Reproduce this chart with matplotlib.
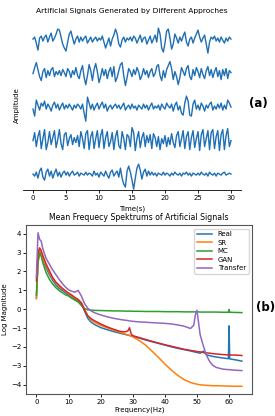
import numpy as np
import matplotlib.pyplot as plt

# ------------------------------------------------------------
# (a) signals, sampled every 0.25 s over 0..30 s (arbitrary units)
# ------------------------------------------------------------
t = np.arange(0, 30.001, 0.25)

sig_1 = [1, 3, -3, -10, 2, 4, -1, 3, 5, -2, 3, 7, -1, 2, 6, 11,
         10, 3, -4, -8, -11, -2, 6, 9, 2, -4, 1, 4, -2, 3, -1, 2,
         4, -3, 0, 3, -2, 1, 3, -1, 2, 0, 4, -2, -8, -3, 2, -6,
         1, 5, 11, 6, -4, -7, 0, 3, -2, 2, 0, 3, -1, 4, 2, -3,
         1, 5, -2, 2, 3, -4, 0, 4, -3, 1, 5, -2, 12, 6, -8, -12,
         -3, 9, 11, 2, -9, -4, 6, 2, -3, 3, -1, 4, 8, -2, -6, 1,
         3, -3, 2, 6, 10, 3, -2, 2, 5, -4, -13, -2, 3, 1, 4, -1,
         2, -2, 3, 0, -3, 2, -1, 3, 1]
sig_2 = [0, 6, 11, 4, -3, -7, 2, 5, -4, 3, -2, 4, 6, -3, 2, -1,
         3, -2, 4, 1, -3, 5, 2, -4, 3, -1, 6, -2, -5, 3, 8, -4,
         -11, -2, 9, 3, -7, 4, 10, 2, -9, -3, 5, -2, 4, -5, 2, 6,
         -3, 7, -8, -4, 3, 9, 11, -2, -12, -4, 5, 2, -3, 4, -1, 6,
         2, -6, -2, 5, -1, 3, -4, 2, 5, -3, 0, 7, 9, -2, -7, 3,
         -4, 4, 8, 12, 5, -6, 2, -3, -11, -4, 6, 2, -2, 5, 8, -3,
         -6, 4, -2, 6, 2, -4, 5, -1, -5, 3, 7, -2, 4, -4, 2, 6,
         -3, 3, -6, 4, -2, 5, -5, 3, 1]
sig_3 = [-2, -9, 7, 2, -3, 4, 1, 6, -2, 3, 0, -4, 2, 5, -1, 3,
         -3, 1, 4, -2, 2, -1, 3, 0, -3, 2, -1, 3, 1, -2, 3, -6,
         -14, 10, 4, -2, 3, -3, 1, 4, -2, 2, 5, -1, 3, -4, 0, 2,
         -2, 1, 3, -1, 2, -2, 1, 4, -3, 0, 2, -2, 3, -1, 1, -3,
         2, 0, -2, 3, -1, 2, -3, 1, 4, -2, 1, -1, 2, -3, 3, 0,
         -2, 4, 1, -1, 3, -4, 2, 5, -3, 1, -6, -8, 4, 11, 6, -8,
         -9, 3, 7, -2, 2, -3, 4, 1, -4, 2, -1, 3, 5, -3, 1, -2,
         3, -1, 4, -3, 2, -2, 7, 4, 0]
sig_4 = [0, 8, -6, 4, 10, -8, 2, 11, -9, -2, 9, -4, 3, 10, -7, 1,
         11, -3, -9, 6, 8, -5, 2, 6, -4, 3, -2, 5, -6, 9, 2, -8,
         7, 10, -9, 4, 9, -8, 2, 10, -7, 5, 11, -8, 3, 9, -6, -1,
         8, -9, 4, 10, -5, -8, 9, 2, -9, 6, 4, -6, 13, 8, -10, 2,
         9, -7, 3, 8, -6, 5, -2, 6, -8, 7, 3, -6, 4, -9, 2, -3,
         5, -6, 3, -4, 7, -2, -7, 5, 9, -6, 2, 10, -8, 4, 9, -9,
         3, 10, -7, 2, 9, -10, 6, 11, -6, 2, 10, -9, 8, 11, -8, 4,
         10, -10, 6, 11, -9, 5, 12, -6, 0]
sig_5 = [0, -2, 2, -4, 3, 6, -3, -6, 2, 5, -2, 3, -4, 1, 5, -2,
         2, -3, 1, 3, -1, 2, -2, 1, 3, -1, 0, 2, -2, 1, 0, -1,
         2, -1, 1, 0, -2, 3, -1, 1, -3, 2, 0, -2, 3, -1, -4, 2,
         4, -2, 1, 3, -3, 6, -4, -10, -13, 3, 8, 2, -6, -15, -4, 6,
         10, 4, -5, 2, 5, -2, 3, -1, 2, -1, 1, -2, 1, 0, -1, 2,
         -1, 1, 0, -2, 1, -1, 2, 0, -1, 1, -2, 1, 0, 2, -1, 1,
         -2, 1, 0, -1, 1, -1, 2, 0, -1, 1, -2, 2, 0, -1, 1, -2,
         1, 0, -1, 1, 2, -1, 0, 1, 0]
signals = [sig_1, sig_2, sig_3, sig_4, sig_5]

# ------------------------------------------------------------
# (b) mean log-magnitude spectra
# ------------------------------------------------------------
freqs = [0, 0.5, 1, 1.5, 2, 3, 4, 5, 6, 7, 8, 9, 10, 11, 12, 13, 14, 15, 16,
         17, 18, 20, 22, 24, 26, 27.5, 28.5, 29, 29.5, 30, 32, 34, 36, 38,
         40, 42, 44, 46, 48, 49, 49.5, 50, 50.5, 51, 52, 53, 54, 55, 56, 58,
         59.8, 60, 60.2, 62, 64]
spec_real = [0.6, 2.6, 3.1, 2.95, 2.6, 2.2, 1.85, 1.55, 1.3, 1.12, 1.0, 0.88,
             0.75, 0.62, 0.52, 0.45, 0.3, -0.1, -0.48, -0.68, -0.8, -0.97,
             -1.08, -1.18, -1.27, -1.33, -1.37, -1.39, -1.41, -1.43, -1.53,
             -1.63, -1.72, -1.81, -1.9, -1.99, -2.07, -2.14, -2.21, -2.25,
             -2.27, -2.29, -2.31, -2.33, -2.22, -2.42, -2.46, -2.5, -2.53,
             -2.58, -2.62, -0.88, -2.63, -2.68, -2.75]
spec_sr = [0.55, 2.4, 3.1, 2.95, 2.65, 2.3, 1.95, 1.65, 1.4, 1.22, 1.08, 0.95,
           0.82, 0.7, 0.6, 0.5, 0.35, 0.0, -0.35, -0.55, -0.68, -0.85, -0.98,
           -1.1, -1.22, -1.3, -1.36, -1.39, -1.42, -1.46, -1.66, -1.9, -2.22,
           -2.55, -2.9, -3.22, -3.5, -3.73, -3.88, -3.93, -3.95, -3.97, -3.99,
           -4.0, -4.02, -4.03, -4.04, -4.05, -4.05, -4.06, -4.07, -4.07,
           -4.07, -4.08, -4.08]
spec_mc = [0.75, 2.5, 3.0, 2.8, 2.45, 1.95, 1.6, 1.35, 1.15, 1.0, 0.88, 0.77,
           0.7, 0.58, 0.48, 0.38, 0.2, 0.03, -0.03, -0.05, -0.06, -0.07,
           -0.08, -0.09, -0.09, -0.1, -0.1, -0.1, -0.1, -0.11, -0.11, -0.12,
           -0.12, -0.12, -0.13, -0.13, -0.13, -0.14, -0.14, -0.14, -0.14,
           -0.14, -0.14, -0.15, -0.15, -0.15, -0.15, -0.15, -0.15, -0.16,
           -0.16, -0.02, -0.16, -0.17, -0.18]
spec_gan = [1.5, 3.0, 3.25, 3.1, 2.85, 2.4, 2.05, 1.7, 1.45, 1.28, 1.12, 0.98,
            0.86, 0.75, 0.62, 0.52, 0.32, -0.05, -0.35, -0.5, -0.6, -0.78,
            -0.93, -1.06, -1.17, -1.2, -1.15, -0.98, -1.3, -1.4, -1.5, -1.6,
            -1.7, -1.79, -1.88, -1.96, -2.04, -2.12, -2.18, -2.21, -2.22,
            -2.24, -2.25, -2.26, -2.29, -2.31, -2.33, -2.35, -2.37, -2.4,
            -2.42, -2.42, -2.42, -2.43, -2.45]
spec_transfer = [1.7, 4.05, 3.7, 3.6, 3.2, 2.7, 2.4, 2.1, 1.85, 1.6, 1.38,
                 1.18, 1.03, 0.95, 0.9, 1.0, 0.7, 0.3, 0.05, -0.08, -0.18,
                 -0.3, -0.4, -0.48, -0.54, -0.58, -0.6, -0.62, -0.63, -0.64,
                 -0.67, -0.69, -0.71, -0.73, -0.75, -0.78, -0.83, -0.9, -1.02,
                 -0.85, -0.3, -0.05, -0.7, -1.35, -1.95, -2.45, -2.78, -2.98,
                 -3.08, -3.17, -3.2, -3.2, -3.2, -3.23, -3.25]
spec_names = ['Real', 'SR', 'MC', 'GAN', 'Transfer']
spectra = [spec_real, spec_sr, spec_mc, spec_gan, spec_transfer]

fig = plt.figure(figsize=(2.75, 4.16), dpi=100)

# --- 上图：五条信号，上下错开 ---
ax1 = fig.add_axes([0.084, 0.543, 0.792, 0.409])
spacing = 33.5
for i, s in enumerate(signals):
    ax1.plot(t, np.array(s) + spacing * (4 - i), color='#1f6fb4', lw=1.0)
ax1.set_ylim(-16, 4.6 * spacing)
ax1.set_xticks([0, 5, 10, 15, 20, 25, 30])
ax1.set_yticks([])
for side in ['left', 'top', 'right']:
    ax1.spines[side].set_visible(False)
ax1.spines['bottom'].set_linewidth(0.6)
ax1.tick_params(labelsize=5, length=2, width=0.6, pad=1.5)
ax1.set_xlabel('Time(s)', fontsize=5, labelpad=3)
ax1.set_ylabel('Amplitude', fontsize=5, labelpad=2)
ax1.set_title('Artificial Signals Generated by Different Approches',
              fontsize=5.4, pad=5)

# --- 下图：平均频谱 ---
ax2 = fig.add_axes([0.095, 0.053, 0.822, 0.406])
for name, spec in zip(spec_names, spectra):
    ax2.plot(freqs, spec, lw=1.1, label=name)
ax2.set_xticks([0, 10, 20, 30, 40, 50, 60])
ax2.set_yticks([-4, -3, -2, -1, 0, 1, 2, 3, 4])
ax2.tick_params(labelsize=5, length=2, width=0.6, pad=1.5)
for sp in ax2.spines.values():
    sp.set_color('#555555')
    sp.set_linewidth(0.8)
ax2.set_xlabel('Frequency(Hz)', fontsize=5, labelpad=1.5)
ax2.set_ylabel('Log Magnitude', fontsize=5, labelpad=2)
ax2.set_title('Mean Frequecy Spektrums of Artificial Signals',
              fontsize=5.6, pad=4)
ax2.legend(loc='upper right', fontsize=5, handlelength=2.2,
           borderpad=0.4, labelspacing=0.35)

fig.text(0.938, 0.752, '(a)', fontsize=8.5, fontweight='bold',
         ha='center', va='center')
fig.text(0.964, 0.26, '(b)', fontsize=8.5, fontweight='bold',
         ha='center', va='center')

fig.savefig('out.png', dpi=100)
